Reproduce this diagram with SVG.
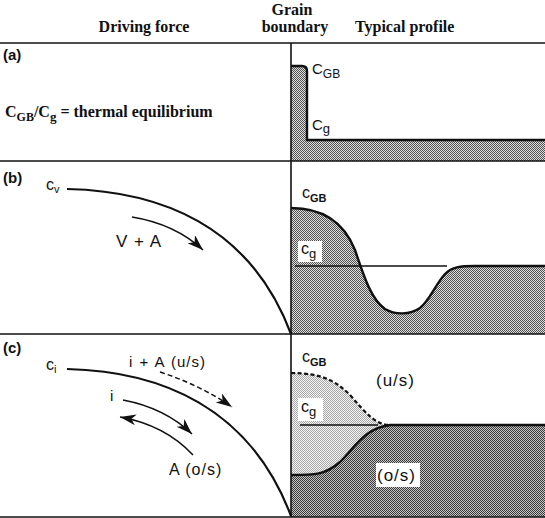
<svg xmlns="http://www.w3.org/2000/svg" width="545" height="518" viewBox="0 0 545 518">
<style>
.hd{font-family:"Liberation Serif","Times New Roman",serif;font-weight:bold;font-size:16px;fill:#111}
.sf{font-family:"Liberation Serif","Times New Roman",serif;font-weight:bold;font-size:16px;fill:#111}
.pl{font-family:"Liberation Sans",Arial,sans-serif;font-weight:bold;font-size:15px;fill:#111}
.lb{font-family:"Liberation Sans",Arial,sans-serif;fill:#111}
.rule{stroke:#111;stroke-width:1.6;fill:none}
.prof{stroke:#111;stroke-width:2.4;fill:none}
.thin{stroke:#111;stroke-width:1.3;fill:none}
.curve{stroke:#111;stroke-width:2.2;fill:none}
.arr{stroke:#111;stroke-width:1.5;fill:none;marker-end:url(#ah)}
.wb{fill:#fff}
</style>
<defs>
<pattern id="pMid" width="2" height="2" patternUnits="userSpaceOnUse"><rect width="2" height="2" fill="#e0e0e0"/><rect width="1" height="1" fill="#505050"/><rect x="1" y="1" width="1" height="1" fill="#505050"/></pattern>
<pattern id="pLight" width="2" height="2" patternUnits="userSpaceOnUse"><rect width="2" height="2" fill="#f4f4f4"/><rect width="1" height="1" fill="#a8a8a8"/><rect x="1" y="1" width="1" height="1" fill="#a8a8a8"/></pattern>
<pattern id="pDark" width="2" height="2" patternUnits="userSpaceOnUse"><rect width="2" height="2" fill="#c4c4c4"/><rect width="1" height="1" fill="#3a3a3a"/><rect x="1" y="1" width="1" height="1" fill="#3a3a3a"/></pattern>
<marker id="ah" markerUnits="userSpaceOnUse" markerWidth="18" markerHeight="12" refX="16" refY="5.5" orient="auto"><path d="M0,0 L16,5.5 L0,11 L4.5,5.5 Z" fill="#111"/></marker>
</defs>
<rect width="545" height="518" fill="#fff"/>

<g id="header">
<text class="hd" x="144" y="32" text-anchor="middle">Driving force</text>
<text class="hd" x="292" y="15" text-anchor="middle">Grain</text>
<text class="hd" x="295" y="32" text-anchor="middle">boundary</text>
<text class="hd" x="355" y="32">Typical profile</text>
</g>

<g id="fills">
<path d="M291,66 L302,66 Q307,66 307,71 L307,140 L545,140 L545,161 L291,161 Z" fill="url(#pMid)"/>
<path d="M291,208 C325,208 345,225 355,250 C365,280 372,300 385,309 C395,315 410,315 420,308 C430,300 435,285 445,274 C452,267 460,266 475,266 L545,266 L545,334 L291,334 Z" fill="url(#pMid)"/>
<path d="M291,373 C320,373 335,380 350,395 C365,412 375,425 390,425 C365,428 355,447 340,462 C325,475 315,475 291,475 Z" fill="url(#pLight)"/>
<path d="M291,475 C315,475 325,475 340,462 C355,447 365,428 390,425 L545,425 L545,517 L291,517 Z" fill="url(#pDark)"/>
</g>

<g id="frame">
<line class="rule" x1="0" y1="43" x2="545" y2="43"/>
<line class="rule" x1="0" y1="161" x2="545" y2="161"/>
<line class="rule" x1="0" y1="334" x2="545" y2="334"/>
<line class="rule" x1="0" y1="517" x2="545" y2="517"/>
<line class="rule" x1="291" y1="43" x2="291" y2="517"/>
</g>

<g id="panel-a">
<text class="pl" x="3" y="60">(a)</text>
<text class="sf" x="5" y="117">C<tspan font-size="12" dy="4">GB</tspan><tspan dy="-4">/C</tspan><tspan font-size="13" dy="4">g</tspan><tspan dy="-4"> = thermal equilibrium</tspan></text>
<path class="prof" d="M291,66 L302,66 Q307,66 307,71 L307,140 L545,140"/>
<text class="lb" x="312" y="74" font-size="15">C<tspan font-size="12" dy="4">GB</tspan></text>
<text class="lb" x="312" y="130" font-size="15">C<tspan font-size="13" dy="3">g</tspan></text>
</g>

<g id="panel-b">
<text class="pl" x="3" y="183">(b)</text>
<path class="curve" d="M67,189 C160,191 250,225 291,334"/>
<text class="lb" x="46" y="190" font-size="16">c<tspan font-size="11" dy="3">v</tspan></text>
<text class="lb" x="116" y="247" font-size="17" word-spacing="2">V + A</text>
<path class="prof" d="M291,208 C325,208 345,225 355,250 C365,280 372,300 385,309 C395,315 410,315 420,308 C430,300 435,285 445,274 C452,267 460,266 475,266 L545,266"/>
<line class="thin" x1="295" y1="266" x2="447" y2="266"/>
<text class="lb" x="302" y="198" font-size="16">c<tspan font-size="11" font-weight="bold" dy="4">GB</tspan></text>
<rect class="wb" x="298" y="241" width="24" height="21"/>
<text class="lb" x="301" y="254" font-size="16">c<tspan font-size="13" dy="4">g</tspan></text>
</g>

<g id="panel-c">
<text class="pl" x="3" y="353">(c)</text>
<path class="curve" d="M67,369 C160,371 250,407 291,516"/>
<text class="lb" x="46" y="370" font-size="16">c<tspan font-size="11" dy="3">i</tspan></text>
<text class="lb" x="129" y="367" font-size="15" letter-spacing="1" word-spacing="1">i + A (u/s)</text>
<text class="lb" x="110" y="401" font-size="15">i</text>
<text class="lb" x="169" y="475" font-size="16" letter-spacing="1">A (o/s)</text>
<path d="M291,373 C320,373 335,380 350,395 C365,412 375,425 390,425" stroke="#111" stroke-width="2.2" fill="none" stroke-dasharray="4,2.5"/>
<path class="prof" d="M291,475 C315,475 325,475 340,462 C355,447 365,428 390,425 L545,425"/>
<line class="thin" x1="300" y1="425" x2="378" y2="425"/>
<text class="lb" x="302" y="362" font-size="16">c<tspan font-size="11" font-weight="bold" dy="4">GB</tspan></text>
<text class="lb" x="376" y="386" font-size="17" letter-spacing="1">(u/s)</text>
<rect class="wb" x="376" y="463" width="44" height="24"/>
<text class="lb" x="377" y="481" font-size="17" letter-spacing="1">(o/s)</text>
<rect class="wb" x="298" y="398" width="25" height="23"/>
<text class="lb" x="301" y="412" font-size="16">c<tspan font-size="13" dy="4">g</tspan></text>
</g>

<g id="connectors">
<path class="arr" d="M132,217 Q175,224 203,250"/>
<path class="arr" d="M160,372 Q200,385 232,407" stroke-dasharray="5,3"/>
<path class="arr" d="M123,400 Q165,408 192,434"/>
<path class="arr" d="M193,455 Q165,425 120,417"/>
</g>
</svg>
